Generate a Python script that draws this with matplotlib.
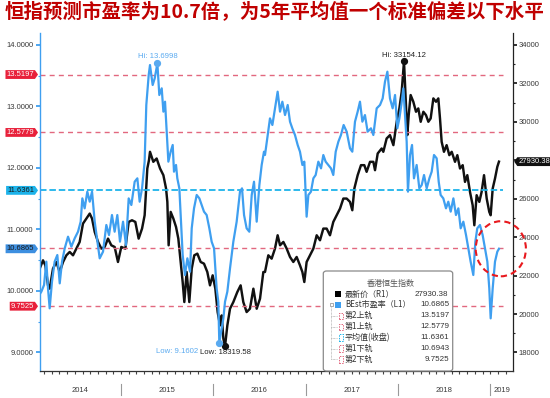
import matplotlib
matplotlib.use("Agg")
import matplotlib.pyplot as plt
import matplotlib.transforms as mtrans
from matplotlib.patches import Ellipse, Rectangle, FancyBboxPatch
from matplotlib.path import Path
import numpy as np

plt.rcParams['font.family'] = ['Liberation Sans', 'Noto Sans CJK SC', 'DejaVu Sans']
CJK = ['Noto Sans CJK SC', 'DejaVu Sans']

# ---------------- data ----------------
TITLE = "恒指预测市盈率为10.7倍，为5年平均值一个标准偏差以下水平"
LEGEND_TITLE = "香港恒生指数"
series_labels = ["最新价（R1）", "BEst市盈率（L1）"]
band_labels = ["第2上轨", "第1上轨", "平均值(收盘)", "第1下轨", "第2下轨"]
band_values = [13.5197, 12.5779, 11.6361, 10.6943, 9.7525]
band_is_mean = [False, False, True, False, False]

# Hang Seng Index (right axis), dates as decimal years
hsi_dates = [
    2014.119, 2014.155, 2014.180, 2014.209, 2014.227, 2014.263, 2014.299, 2014.336, 2014.372, 2014.408,
    2014.444, 2014.480, 2014.516, 2014.552, 2014.588, 2014.624, 2014.661, 2014.686, 2014.715, 2014.751,
    2014.787, 2014.823, 2014.859, 2014.895, 2014.931, 2014.967, 2015.003, 2015.047, 2015.083, 2015.119,
    2015.155, 2015.191, 2015.228, 2015.256, 2015.285, 2015.303,
    2015.314, 2015.350, 2015.386, 2015.423, 2015.459, 2015.488, 2015.502, 2015.516, 2015.538, 2015.567,
    2015.596, 2015.621, 2015.646, 2015.668, 2015.686, 2015.711, 2015.740, 2015.766, 2015.794, 2015.827,
    2015.863, 2015.899, 2015.935, 2015.964, 2015.993, 2016.022, 2016.047, 2016.073, 2016.091, 2016.109,
    2016.127, 2016.152, 2016.181, 2016.217, 2016.260, 2016.296, 2016.325, 2016.361, 2016.397, 2016.434,
    2016.470, 2016.506, 2016.542,
    2016.560, 2016.596, 2016.632, 2016.668, 2016.697, 2016.723, 2016.759, 2016.795, 2016.831, 2016.867,
    2016.903, 2016.939, 2016.965, 2016.986, 2017.011, 2017.048, 2017.084, 2017.120, 2017.156, 2017.192,
    2017.228, 2017.264, 2017.300, 2017.337, 2017.373, 2017.409, 2017.445, 2017.481, 2017.506, 2017.528,
    2017.564, 2017.600, 2017.636, 2017.661, 2017.698, 2017.734, 2017.752, 2017.781, 2017.824,
    2017.842, 2017.878, 2017.914, 2017.951, 2017.987, 2018.016, 2018.041, 2018.066, 2018.088, 2018.102,
    2018.117, 2018.138, 2018.167, 2018.196, 2018.221, 2018.247, 2018.276, 2018.304, 2018.330, 2018.355,
    2018.384, 2018.413, 2018.438, 2018.456, 2018.474, 2018.499, 2018.528, 2018.557, 2018.583, 2018.619,
    2018.644, 2018.673, 2018.702, 2018.727, 2018.752, 2018.781, 2018.810, 2018.828, 2018.853, 2018.882,
    2018.907, 2018.933, 2018.962, 2018.990, 2019.005, 2019.027, 2019.052, 2019.077, 2019.095]
hsi_values = [
    22362, 22796, 22536, 21494, 21320, 22362, 22710, 22189, 22710, 23057,
    23231, 23057, 23404, 23752, 24707, 24968, 25228, 24968, 24273, 23752,
    23404, 23491, 23926, 23578, 23491, 22710, 23491, 23404, 24794, 24881,
    24794, 23926, 24447, 25142, 27573, 28007,
    28442, 27921, 28094, 27573, 27226, 26531, 25836, 23578, 25315, 24968,
    24533, 23926, 22710, 21667, 20625, 22189, 20625, 22362, 23057, 23144,
    22710, 22623, 22189, 21494, 22015, 21320, 20104, 19409, 19930, 18715,
    18319.58, 19409, 20278, 20625, 21146, 21494, 20625, 20104, 20278, 21320,
    20278, 20799, 22189,
    22189, 23057, 22883, 23404, 24099, 23578, 23752, 23404, 22970, 22710,
    22970, 22536, 22189, 21667, 22710, 23057, 23404, 24099, 23839, 24447,
    24447, 24099, 24794, 25142, 25489, 26010, 26010, 25836, 25402, 26531,
    27226, 27747, 27747, 27400, 27921, 27921, 27486, 28355, 28615,
    28442, 29136, 29310, 28789, 30005, 30700, 31568, 33154.12, 30874, 29310,
    30352, 31395, 31047, 30526, 30700, 30005, 30526, 30352, 30005, 30179,
    31221, 31047, 31221, 30179, 28963, 28442, 28789, 28268, 28442, 27921,
    28268, 27573, 27747, 26878, 27226, 26357, 25662, 24620, 26184, 25836,
    26357, 27226, 26010, 25315, 25142, 26531, 27052, 27660, 27930.38]

# BEst forward P/E (left axis)
pe_dates = [
    2014.112, 2014.137, 2014.166, 2014.191, 2014.209, 2014.227, 2014.252, 2014.281, 2014.310, 2014.336,
    2014.361, 2014.390, 2014.426, 2014.462, 2014.498, 2014.534, 2014.563, 2014.581, 2014.606, 2014.635,
    2014.661, 2014.686, 2014.715, 2014.744, 2014.769, 2014.805, 2014.841, 2014.870, 2014.902, 2014.931,
    2014.960, 2014.989, 2015.022, 2015.054, 2015.083, 2015.112, 2015.148, 2015.177, 2015.202, 2015.228,
    2015.256, 2015.274, 2015.300,
    2015.314, 2015.343, 2015.365, 2015.394, 2015.415, 2015.441, 2015.459, 2015.477, 2015.495, 2015.513,
    2015.538, 2015.560, 2015.574, 2015.596, 2015.610, 2015.632, 2015.646, 2015.668, 2015.693, 2015.719,
    2015.748, 2015.766, 2015.791, 2015.820, 2015.849, 2015.874, 2015.899, 2015.928, 2015.957, 2015.982,
    2016.008, 2016.036, 2016.054, 2016.065, 2016.109, 2016.127, 2016.152, 2016.181, 2016.217, 2016.253,
    2016.289, 2016.311, 2016.333, 2016.361, 2016.390, 2016.416, 2016.441, 2016.470, 2016.499, 2016.524,
    2016.549,
    2016.560, 2016.589, 2016.614, 2016.640, 2016.668, 2016.697, 2016.723, 2016.748, 2016.777, 2016.806,
    2016.831, 2016.856, 2016.885, 2016.914, 2016.939, 2016.965, 2016.986, 2017.001, 2017.011, 2017.030,
    2017.058, 2017.084, 2017.109, 2017.138, 2017.167, 2017.192, 2017.217, 2017.246, 2017.275, 2017.300,
    2017.326, 2017.355, 2017.383, 2017.412, 2017.445, 2017.481, 2017.506, 2017.535, 2017.564, 2017.589,
    2017.615, 2017.643, 2017.672, 2017.708, 2017.734, 2017.770, 2017.806,
    2017.835, 2017.860, 2017.886, 2017.914, 2017.943, 2017.969, 2017.994, 2018.016, 2018.037, 2018.059,
    2018.077, 2018.095, 2018.109, 2018.131, 2018.153, 2018.174, 2018.203, 2018.232, 2018.258, 2018.283,
    2018.312, 2018.341, 2018.366, 2018.391, 2018.420, 2018.442, 2018.463, 2018.492, 2018.521, 2018.546,
    2018.572, 2018.601, 2018.629, 2018.655, 2018.680, 2018.709, 2018.738, 2018.763, 2018.788, 2018.817,
    2018.839, 2018.860, 2018.889, 2018.918, 2018.944, 2018.969, 2018.990, 2019.005, 2019.027, 2019.052,
    2019.077, 2019.095]
pe_values = [
    9.93, 9.989, 10.097, 10.477, 10.043, 9.718, 10.151, 10.477, 10.585, 10.124,
    10.477, 10.693, 10.883, 10.721, 10.856, 10.964, 11.127, 11.506, 11.344, 11.615,
    11.452, 11.615, 11.127, 10.802, 10.531, 10.639, 11.073, 10.910, 11.235, 10.964,
    11.235, 10.802, 11.127, 10.748, 11.506, 11.398, 11.777, 11.832, 11.452, 11.669,
    12.103, 13.024, 13.512,
    13.674, 13.349, 13.458, 13.6998, 13.187, 13.295, 12.916, 13.078, 12.590, 12.103,
    12.265, 12.374, 11.940, 12.049, 11.832, 11.669, 11.235, 10.585, 10.260, 10.531,
    10.314, 11.019, 11.344, 11.561, 11.506, 11.398, 11.290, 11.235, 11.019, 10.802,
    10.693, 10.043, 9.826, 9.1602, 9.555, 9.826, 9.989, 10.368, 10.802, 11.127,
    11.615, 11.669, 11.235, 11.019, 10.964, 11.561, 11.777, 11.127, 11.723, 12.049,
    12.265,
    12.211, 12.536, 12.807, 12.699, 12.970, 13.241, 12.916, 13.078, 12.861, 13.024,
    12.753, 12.645, 12.536, 12.374, 12.265, 12.049, 12.103, 11.561, 11.208, 11.561,
    11.615, 11.832, 11.886, 12.103, 11.994, 12.211, 12.103, 12.049, 11.994, 11.886,
    12.265, 12.428, 12.536, 12.699, 12.590, 12.319, 12.265, 12.753, 12.916, 13.078,
    12.753, 12.861, 12.590, 12.645, 12.536, 12.970, 13.024,
    13.132, 13.403, 13.566, 13.132, 12.970, 13.187, 12.645, 12.807, 13.024, 13.295,
    12.861, 12.428, 11.615, 12.211, 12.374, 11.832, 12.049, 11.669, 11.723, 11.886,
    11.669, 11.832, 11.940, 12.211, 12.157, 11.777, 11.561, 11.506, 11.344, 11.452,
    11.290, 11.506, 11.235, 11.344, 11.019, 11.127, 10.910, 10.693, 10.477, 10.260,
    10.802, 11.019, 11.073, 10.910, 10.693, 10.477, 10.043, 9.555, 10.043, 10.477,
    10.639, 10.6865]

years = [2014, 2015, 2016, 2017, 2018, 2019]
left_ticks = [9, 10, 11, 12, 13, 14]
right_ticks = [18000, 20000, 22000, 24000, 26000, 28000, 30000, 32000, 34000]

# ---------------- styles ----------------
BLUE = '#3f9ff0'
LBLUE = '#5aaaf0'
RED_LINE = '#e2687f'
RED_BOX = '#e8203a'
CYAN = '#1cb3ea'
TXT = '#3a3a3a'

W, H = 550.0, 398.0
def fx(px):
    return px / W
def fy(py):
    return 1.0 - py / H

def tag_right(x0, y0, width, height, mutation_size):
    pad = mutation_size * 0.12
    x0 -= pad; y0 -= pad
    x1 = x0 + width + 2 * pad; y1 = y0 + height + 2 * pad
    tip = (y1 - y0) * 0.35
    return Path([(x0, y0), (x1, y0), (x1 + tip, (y0 + y1) / 2), (x1, y1), (x0, y1), (x0, y0)], closed=True)

def tag_left(x0, y0, width, height, mutation_size):
    pad = mutation_size * 0.12
    x0 -= pad; y0 -= pad
    x1 = x0 + width + 2 * pad; y1 = y0 + height + 2 * pad
    tip = (y1 - y0) * 0.35
    return Path([(x0, y0), (x1, y0), (x1, y1), (x0, y1), (x0 - tip, (y0 + y1) / 2), (x0, y0)], closed=True)

fig = plt.figure(figsize=(5.5, 3.98), dpi=100)
fig.patch.set_facecolor('white')
ax = fig.add_axes([fx(39.7), fy(371), fx(513) - fx(39.7), fy(33) - fy(371)])
ax2 = ax.twinx()
ax.set_zorder(2)
ax2.set_zorder(1)
ax.patch.set_visible(False)

xlim = (2014.119, 2019.247)
LEFT_LIM = (8.699, 14.195)
RIGHT_LIM = (17037, 34624)
ax.set_xlim(*xlim)
ax.set_ylim(*LEFT_LIM)
ax2.set_ylim(*RIGHT_LIM)

# lines
ax2.plot(hsi_dates, hsi_values, color='#111111', lw=1.75, zorder=3, solid_joinstyle='round')
ax.plot(pe_dates, pe_values, color=BLUE, lw=1.6, zorder=3, solid_joinstyle='round')

# band lines
x_end = pe_dates[-1] + 0.04
for v, m in zip(band_values, band_is_mean):
    if m:
        ax.hlines(v, xlim[0], x_end, colors=CYAN, lw=1.3, linestyles=(0, (3.6, 1.6)), zorder=2)
    else:
        ax.hlines(v, xlim[0], x_end, colors=RED_LINE, lw=1.0, linestyles=(0, (3.6, 3.0)), zorder=2)

# spines
for s in ['top', 'right']:
    ax.spines[s].set_visible(False)
ax.spines['left'].set_color(BLUE)
ax.spines['left'].set_linewidth(1.0)
ax.spines['bottom'].set_color('#333333')
ax.spines['bottom'].set_linewidth(0.9)
for s in ['top', 'left', 'bottom']:
    ax2.spines[s].set_visible(False)
ax2.spines['right'].set_color('#222222')
ax2.spines['right'].set_linewidth(0.9)

hsi_last = hsi_values[-1]
pe_last = pe_values[-1]

# y ticks
ax.set_yticks(left_ticks)
ax.set_yticklabels([f"{t:.4f}" for t in left_ticks])
ax.set_yticks([t + 0.5 for t in left_ticks[:-1]], minor=True)
ax.tick_params(axis='y', which='major', direction='out', length=3, width=1.3, color=BLUE,
               labelsize=5.5, labelcolor=TXT, pad=1.5)
ax.tick_params(axis='y', which='minor', direction='out', length=1.5, width=0.8, color=BLUE)
ax2.set_yticks(right_ticks)
# the label hidden behind the last-price tag is left blank
ax2.set_yticklabels(["" if abs(t - hsi_last) < 600 else f"{t}" for t in right_ticks])
ax2.set_yticks([t + 1000 for t in right_ticks[:-1]], minor=True)
ax2.tick_params(axis='y', which='major', direction='out', length=3, width=1.3, color='#222222',
                labelsize=5.5, labelcolor=TXT, pad=1.0)
ax2.tick_params(axis='y', which='minor', direction='out', length=1.5, width=0.8, color='#222222')

# x ticks: monthly minor ticks, year labels centred in each year
ax.set_xticks([])
months = [y + m / 12.0 for y in years for m in range(12) if xlim[0] <= y + m / 12.0 <= xlim[1]]
ax.set_xticks(months, minor=True)
ax.tick_params(axis='x', which='minor', direction='out', length=2.5, width=0.8, color='#444444')
ax.tick_params(axis='x', which='major', length=0, labelbottom=False)
blend_x = mtrans.blended_transform_factory(ax.transData, ax.transAxes)
for y in years:
    c = (max(y, xlim[0]) + min(y + 1, xlim[1])) / 2.0
    ax.text(c, -0.059, str(y), transform=blend_x, ha='center', va='center', fontsize=5.5, color=TXT)
    if y > years[0]:
        ax.plot([y, y], [-0.038, -0.071], transform=blend_x, color='#9a9a9a', lw=0.8, clip_on=False)

# left value tags
blend_y = mtrans.blended_transform_factory(ax.transAxes, ax.transData)
tags = [(band_values[0], RED_BOX, 'white'), (band_values[1], RED_BOX, 'white'),
        (band_values[2], CYAN, '#1a1a1a'), (pe_last, '#3d8fe0', '#1a1a1a'),
        (band_values[4], RED_BOX, 'white')]
for v, fc, tc in tags:
    ax.text(-0.012, v, f"{v:.4f}", transform=blend_y, ha='right', va='center', fontsize=5.5,
            color=tc, zorder=6, clip_on=False,
            bbox=dict(boxstyle=tag_right, fc=fc, ec='none'))

# right value tag (placed at the last price on the right scale)
blend_y2 = mtrans.blended_transform_factory(ax2.transAxes, ax2.transData)
ax2.text(1.011, hsi_last, f"{hsi_last:.2f}", transform=blend_y2, ha='left', va='center', fontsize=5.5,
         color='white', zorder=6, clip_on=False,
         bbox=dict(boxstyle=tag_left, fc='#111111', ec='none'))

# hi / low markers and labels
i_hi = int(np.argmax(pe_values)); i_lo = int(np.argmin(pe_values))
j_hi = int(np.argmax(hsi_values)); j_lo = int(np.argmin(hsi_values))
ax.plot([pe_dates[i_hi], pe_dates[i_lo]], [pe_values[i_hi], pe_values[i_lo]], 'o', ms=4.2,
        color=LBLUE, zorder=5)
ax2.plot([hsi_dates[j_hi], hsi_dates[j_lo]], [hsi_values[j_hi], hsi_values[j_lo]], 'o', ms=4.2,
         color='#111111', zorder=5)
ax.annotate(f"Hi: {pe_values[i_hi]:.4f}", (pe_dates[i_hi], pe_values[i_hi]), xytext=(0, 4.8),
            textcoords='offset points', ha='center', va='center', fontsize=5.6, color=LBLUE, zorder=6)
ax.annotate(f"Low: {pe_values[i_lo]:.4f}", (pe_dates[i_lo], pe_values[i_lo]), xytext=(-14.9, -6.5),
            textcoords='offset points', ha='right', va='center', fontsize=5.6, color=LBLUE, zorder=6)
ax2.annotate(f"Hi: {hsi_values[j_hi]:.2f}", (hsi_dates[j_hi], hsi_values[j_hi]), xytext=(0, 3.8),
             textcoords='offset points', ha='center', va='center', fontsize=5.6, color='#222222')
ax2.annotate(f"Low: {hsi_values[j_lo]:.2f}", (hsi_dates[j_lo], hsi_values[j_lo]), xytext=(0, -4.2),
             textcoords='offset points', ha='center', va='center', fontsize=5.6, color='#222222')

# dashed red circle around the latest P/E
disp = ax.transData.transform((pe_dates[-1] + 0.02, pe_last))
cx, cy = ax.transAxes.inverted().transform(disp)
ax.add_patch(Ellipse((cx, cy), 0.106, 0.163, transform=ax.transAxes, fill=False, ec='#e8191e',
                     lw=1.5, ls=(0, (3, 2)), clip_on=False, zorder=7))

# legend box
fig.patches.append(FancyBboxPatch((fx(323.3), fy(371)), fx(452.7) - fx(323.3), fy(271) - fy(371),
                                  boxstyle='round,pad=0,rounding_size=0.006', fc='white', ec='#8a8a8a',
                                  lw=0.9, transform=fig.transFigure, zorder=10))
fig.text(fx(391), fy(283.3), LEGEND_TITLE, ha='center', va='center', fontsize=5.8, color='#555555',
         family=CJK, zorder=11)
row_labels = series_labels + band_labels
row_values = [f"{hsi_last:.2f}", f"{pe_last:.4f}"] + [f"{v:.4f}" for v in band_values]
row_y0, row_dy = 294.0, 10.9
for i, (lab, val) in enumerate(zip(row_labels, row_values)):
    yy = row_y0 + i * row_dy
    fig.text(fx(345), fy(yy), lab, ha='left', va='center', fontsize=5.8, color='#333333', family=CJK, zorder=11)
    fig.text(fx(449.5 if i else 448), fy(yy), val, ha='right', va='center', fontsize=5.8, color='#333333', zorder=11)
    if i == 0:
        fig.patches.append(Rectangle((fx(334.7), fy(yy + 3.3)), fx(6.6), 6.6 / H, fc='#000000', ec='none',
                                     transform=fig.transFigure, zorder=11))
    elif i == 1:
        fig.patches.append(Rectangle((fx(334.7), fy(yy + 3.3)), fx(6.6), 6.6 / H, fc=BLUE, ec='none',
                                     transform=fig.transFigure, zorder=11))
    else:
        col = CYAN if band_is_mean[i - 2] else RED_LINE
        fig.patches.append(Rectangle((fx(338.5), fy(yy + 3.2)), fx(4.5), 6.4 / H, fill=False, ec=col,
                                     lw=0.7, ls=(0, (1.5, 1.2)), transform=fig.transFigure, zorder=11))
        fig.lines.append(plt.Line2D([fx(331), fx(337)], [fy(yy), fy(yy)], transform=fig.transFigure,
                                    color='#9a9a9a', lw=0.5, ls=(0, (1, 1)), zorder=11))
# tree connector
fig.patches.append(Rectangle((fx(329.5), fy(row_y0 + row_dy + 1.5)), fx(3), 3 / H, fill=False,
                             ec='#8a8a8a', lw=0.5, transform=fig.transFigure, zorder=11))
fig.lines.append(plt.Line2D([fx(331), fx(331)], [fy(row_y0 + row_dy + 2), fy(row_y0 + 6 * row_dy)],
                            transform=fig.transFigure, color='#9a9a9a', lw=0.5, ls=(0, (1, 1)), zorder=11))

# title
fig.text(fx(5), fy(12.5), TITLE, ha='left', va='center', fontsize=14.0, fontweight='bold',
         color='#c00000', family=CJK)

fig.savefig('out.png', dpi=100, facecolor='white')
